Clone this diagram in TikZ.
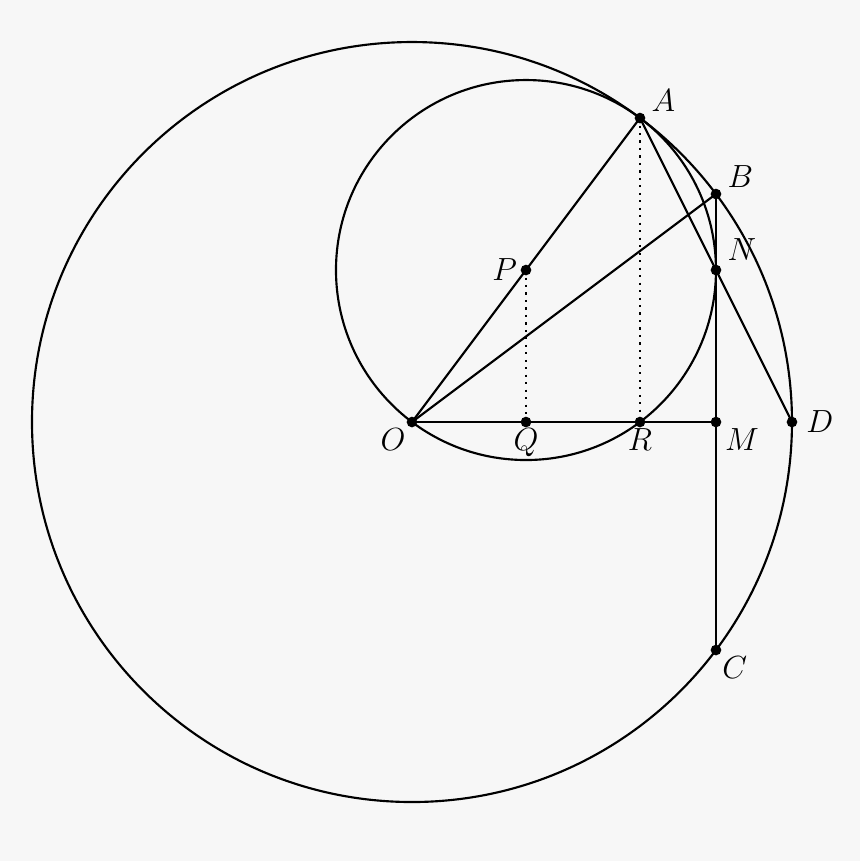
\documentclass[tikz,border=0pt]{standalone}
\definecolor{bg}{HTML}{F7F7F7}
\begin{document}
\begin{tikzpicture}[x=1cm,y=1cm,line width=0.8pt,
  pt/.style={circle,fill=black,inner sep=0pt,minimum size=4pt},
  lbl/.style={font=\fontsize{12.8}{15}\selectfont,inner sep=2pt},
  dotline/.style={dotted,line width=0.8pt}]
\fill[bg] (-5.421,-5.776) rectangle (5.895,5.553);
\useasboundingbox (-5.421,-5.776) rectangle (5.895,5.553);
\coordinate (O) at (0,0);
\coordinate (P) at (1.5,2);
\coordinate (A) at (3,4);
\coordinate (B) at (4,3);
\coordinate (N) at (4,2);
\coordinate (M) at (4,0);
\coordinate (C) at (4,-3);
\coordinate (D) at (5,0);
\coordinate (Q) at (1.5,0);
\coordinate (R) at (3,0);
\draw (O) circle (5);
\draw (P) circle (2.5);
\draw (O) -- (A);
\draw (O) -- (B);
\draw (O) -- (M);
\draw (A) -- (D);
\draw (B) -- (C);
\draw[dotline] (P) -- (Q);
\draw[dotline] (A) -- (R);
\foreach \p in {O,P,A,B,N,M,C,D,Q,R} \node[pt] at (\p) {};
\node[lbl,above right,xshift=2pt] at (A) {$A$};
\node[lbl,above right,xshift=2pt] at (B) {$B$};
\node[lbl,above right,xshift=2pt,yshift=1pt] at (N) {$N$};
\node[lbl,right,xshift=3pt] at (D) {$D$};
\node[lbl,below right,xshift=1pt] at (M) {$M$};
\node[lbl,below right] at (C) {$C$};
\node[lbl,below] at (R) {$R$};
\node[lbl,below] at (Q) {$Q$};
\node[lbl,below left] at (O) {$O$};
\node[lbl,left,xshift=-1pt] at (P) {$P$};
\end{tikzpicture}
\end{document}
